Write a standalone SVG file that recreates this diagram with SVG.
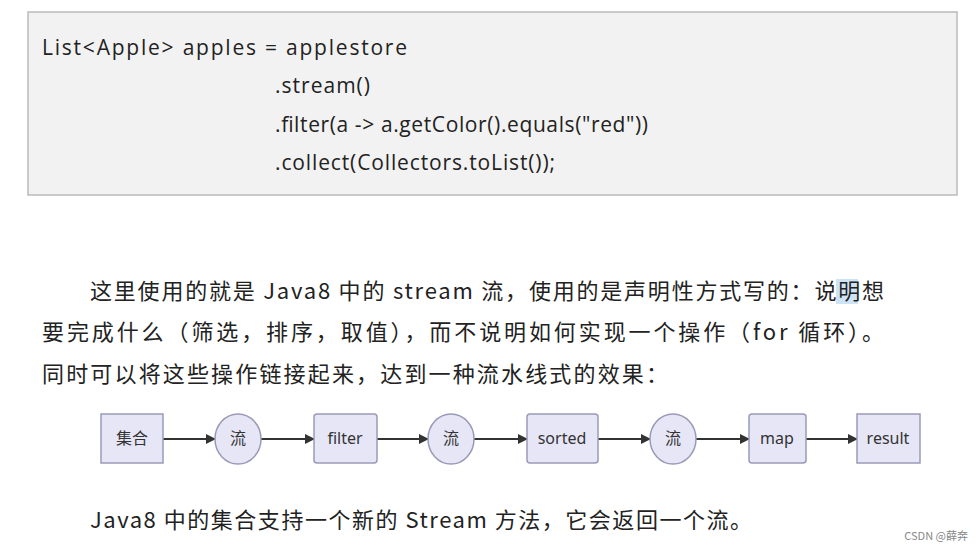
<svg xmlns="http://www.w3.org/2000/svg" width="980" height="551" viewBox="0 0 980 551">
<style>
.code{font-family:"Open Sans","Liberation Sans",sans-serif;font-size:21px;fill:#222}
.p{font-family:"Noto Sans CJK SC","Noto Sans",sans-serif;font-size:22px;fill:#222}
.n{fill:#e6e6f6;stroke:#9a9ab8;stroke-width:1.5}
.t{font-family:"Noto Sans","Noto Sans CJK SC",sans-serif;font-size:16px;fill:#333;text-anchor:middle}
.e{stroke:#333;stroke-width:2;fill:none;marker-end:url(#a)}
</style>
<defs><marker id="a" markerWidth="10" markerHeight="10" refX="9" refY="5" orient="auto" markerUnits="userSpaceOnUse"><path d="M0,0L10,5L0,10z" fill="#333"/></marker></defs>
<rect width="980" height="551" fill="#fff"/>
<rect x="28" y="12" width="929" height="183" fill="#f2f2f2" stroke="#bbb" stroke-width="1.5"/>
<text class="code" x="42" y="55" textLength="365" lengthAdjust="spacing">List&lt;Apple&gt;  apples  =  applestore</text>
<text class="code" x="275" y="93" textLength="95" lengthAdjust="spacing">.stream()</text>
<text class="code" x="275" y="132" textLength="373" lengthAdjust="spacing">.filter(a  -&gt;  a.getColor().equals("red"))</text>
<text class="code" x="275" y="170" textLength="280" lengthAdjust="spacing">.collect(Collectors.toList());</text>
<rect x="836" y="279" width="22" height="25" fill="#cde4f7"/>
<text class="p" x="90" y="299" textLength="794" lengthAdjust="spacing">这里使用的就是 Java8 中的 stream 流，使用的是声明性方式写的：说明想</text>
<text class="p" x="42" y="340" textLength="842" lengthAdjust="spacing">要完成什么（筛选，排序，取值），而不说明如何实现一个操作（for 循环）。</text>
<text class="p" x="42" y="382" textLength="626" lengthAdjust="spacing">同时可以将这些操作链接起来，达到一种流水线式的效果：</text>
<text class="p" x="90" y="528" textLength="662" lengthAdjust="spacing">Java8 中的集合支持一个新的 Stream 方法，它会返回一个流。</text>
<text x="968" y="540" font-family="Noto Sans CJK SC,sans-serif" font-size="11" fill="#888" text-anchor="end">CSDN @薛奔</text>
<g id="connectors">
<line class="e" x1="163" y1="439" x2="215" y2="439"/>
<line class="e" x1="261" y1="439" x2="314" y2="439"/>
<line class="e" x1="377" y1="439" x2="428" y2="439"/>
<line class="e" x1="474" y1="439" x2="527" y2="439"/>
<line class="e" x1="598" y1="439" x2="650" y2="439"/>
<line class="e" x1="696" y1="439" x2="749" y2="439"/>
<line class="e" x1="806" y1="439" x2="857" y2="439"/>
</g>
<g id="n1"><rect class="n" x="101" y="414" width="62" height="49"/><text class="t" x="132" y="444">集合</text></g>
<g id="n2"><ellipse class="n" cx="238" cy="439" rx="23" ry="25"/><text class="t" x="238" y="444">流</text></g>
<g id="n3"><rect class="n" x="314" y="414" width="63" height="49" rx="3"/><text class="t" x="345" y="444">filter</text></g>
<g id="n4"><ellipse class="n" cx="451" cy="439" rx="23" ry="25"/><text class="t" x="451" y="444">流</text></g>
<g id="n5"><rect class="n" x="527" y="414" width="71" height="49" rx="3"/><text class="t" x="562" y="444">sorted</text></g>
<g id="n6"><ellipse class="n" cx="673" cy="439" rx="23" ry="25"/><text class="t" x="673" y="444">流</text></g>
<g id="n7"><rect class="n" x="749" y="414" width="57" height="49" rx="3"/><text class="t" x="777" y="444">map</text></g>
<g id="n8"><rect class="n" x="857" y="414" width="63" height="49"/><text class="t" x="888" y="444">result</text></g>
</svg>
